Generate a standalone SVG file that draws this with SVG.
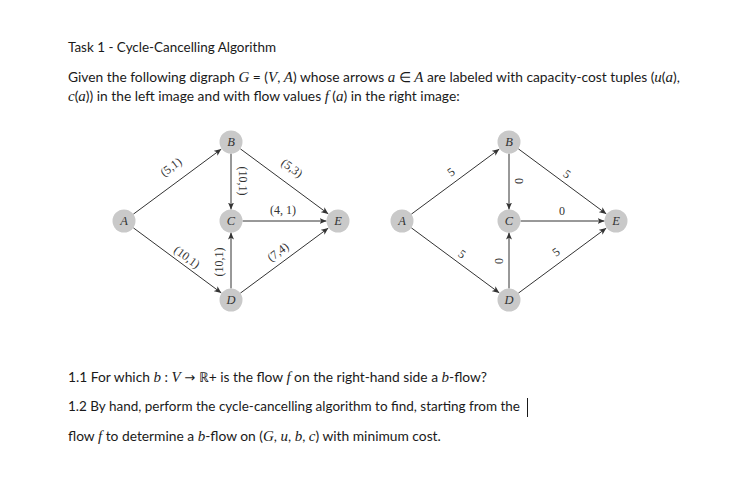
<svg xmlns="http://www.w3.org/2000/svg" width="752" height="479" viewBox="0 0 752 479">
<style>
.bg{fill:#ffffff}
.t{font-family:Lato,"Liberation Sans",Arial,sans-serif;font-size:13.8px;fill:#1a1a1a}
.m{font-family:"Liberation Serif","Times New Roman",serif;font-style:italic;font-size:15px}
.r{font-family:"DejaVu Sans",sans-serif;font-size:13px}
.node circle{fill:#c9c9c9;stroke:none}
.node text{font-family:"Liberation Serif","Times New Roman",serif;font-style:italic;font-size:12.5px;fill:#333;text-anchor:middle;dominant-baseline:central}
.edge{stroke:#333;stroke-width:1;fill:none;marker-end:url(#arr)}
.lbl{font-family:"Liberation Serif","Times New Roman",serif;font-size:12px;fill:#333;text-anchor:middle;dominant-baseline:central}
</style>
<defs>
<marker id="arr" markerUnits="userSpaceOnUse" markerWidth="8" markerHeight="7" refX="7" refY="3" orient="auto">
<path d="M0,0 L7,3 L0,6 L1.8,3 z" fill="#333"/>
</marker>
</defs>
<rect class="bg" x="0" y="0" width="752" height="479"/>

<text class="t" x="68" y="52" textLength="208" lengthAdjust="spacingAndGlyphs">Task 1 - Cycle-Cancelling Algorithm</text>
<text class="t" x="68" y="82">Given the following digraph <tspan class="m">G</tspan> = (<tspan class="m">V</tspan>, <tspan class="m">A</tspan>) whose arrows <tspan class="m">a</tspan> ∈ <tspan class="m">A</tspan> are labeled with capacity-cost tuples (<tspan class="m">u</tspan>(<tspan class="m">a</tspan>),</text>
<text class="t" x="68" y="101"><tspan class="m">c</tspan>(<tspan class="m">a</tspan>)) in the left image and with flow values <tspan class="m">f</tspan>  (<tspan class="m">a</tspan>) in the right image:</text>

<g id="left-connectors">
<line class="edge" x1="133.3" y1="214.2" x2="221.3" y2="149.1"/>
<line class="edge" x1="231" y1="153.5" x2="231" y2="209.5"/>
<line class="edge" x1="240.3" y1="148.8" x2="328.3" y2="213.9"/>
<line class="edge" x1="242.5" y1="221" x2="326.5" y2="221"/>
<line class="edge" x1="133.3" y1="227.8" x2="221.3" y2="292.9"/>
<line class="edge" x1="231" y1="288.5" x2="231" y2="232.5"/>
<line class="edge" x1="240.3" y1="293.2" x2="328.3" y2="228.1"/>
<text class="lbl" transform="translate(171,167) rotate(-36.4)">(5,1)</text>
<text class="lbl" transform="translate(243,181) rotate(90)">(10,1)</text>
<text class="lbl" transform="translate(292,168) rotate(36.4)">(5,3)</text>
<text class="lbl" x="283" y="210">(4, 1)</text>
<text class="lbl" transform="translate(187,257) rotate(36.4)">(10,1)</text>
<text class="lbl" transform="translate(219,262) rotate(-90)">(10,1)</text>
<text class="lbl" transform="translate(278,252) rotate(-36.4)">(7,4)</text>
</g>
<g id="left-A" class="node"><circle cx="124" cy="221" r="11.5"/><text x="124" y="221">A</text></g>
<g id="left-B" class="node"><circle cx="231" cy="142" r="11.5"/><text x="231" y="142">B</text></g>
<g id="left-C" class="node"><circle cx="231" cy="221" r="11.5"/><text x="231" y="221">C</text></g>
<g id="left-D" class="node"><circle cx="231" cy="300" r="11.5"/><text x="231" y="300">D</text></g>
<g id="left-E" class="node"><circle cx="338" cy="221" r="11.5"/><text x="338" y="221">E</text></g>

<g id="right-connectors">
<line class="edge" x1="411.3" y1="214.2" x2="499.3" y2="149.1"/>
<line class="edge" x1="509" y1="153.5" x2="509" y2="209.5"/>
<line class="edge" x1="518.3" y1="148.8" x2="606.3" y2="213.9"/>
<line class="edge" x1="520.5" y1="221" x2="604.5" y2="221"/>
<line class="edge" x1="411.3" y1="227.8" x2="499.3" y2="292.9"/>
<line class="edge" x1="509" y1="288.5" x2="509" y2="232.5"/>
<line class="edge" x1="518.3" y1="293.2" x2="606.3" y2="228.1"/>
<text class="lbl" transform="translate(451,172) rotate(-36.4)">5</text>
<text class="lbl" transform="translate(519,181) rotate(90)">0</text>
<text class="lbl" transform="translate(567,174) rotate(36.4)">5</text>
<text class="lbl" x="562" y="211">0</text>
<text class="lbl" transform="translate(462,254) rotate(36.4)">5</text>
<text class="lbl" transform="translate(499,261) rotate(-90)">0</text>
<text class="lbl" transform="translate(556,252) rotate(-36.4)">5</text>
</g>
<g id="right-A" class="node"><circle cx="402" cy="221" r="11.5"/><text x="402" y="221">A</text></g>
<g id="right-B" class="node"><circle cx="509" cy="142" r="11.5"/><text x="509" y="142">B</text></g>
<g id="right-C" class="node"><circle cx="509" cy="221" r="11.5"/><text x="509" y="221">C</text></g>
<g id="right-D" class="node"><circle cx="509" cy="300" r="11.5"/><text x="509" y="300">D</text></g>
<g id="right-E" class="node"><circle cx="616" cy="221" r="11.5"/><text x="616" y="221">E</text></g>

<text class="t" x="68" y="382">1.1 For which <tspan class="m">b</tspan> : <tspan class="m">V</tspan> <tspan class="r">→</tspan> ℝ+ is the flow <tspan class="m">f</tspan>  on the right-hand side a <tspan class="m">b</tspan>-flow?</text>
<text class="t" x="68" y="411" textLength="452" lengthAdjust="spacingAndGlyphs">1.2 By hand, perform the cycle-cancelling algorithm to find, starting from the</text>
<line x1="527.5" y1="398" x2="527.5" y2="417" stroke="#1a1a1a" stroke-width="1"/>
<text class="t" x="68" y="441">flow <tspan class="m">f</tspan>  to determine a <tspan class="m">b</tspan>-flow on (<tspan class="m">G</tspan>, <tspan class="m">u</tspan>, <tspan class="m">b</tspan>, <tspan class="m">c</tspan>) with minimum cost.</text>
</svg>
